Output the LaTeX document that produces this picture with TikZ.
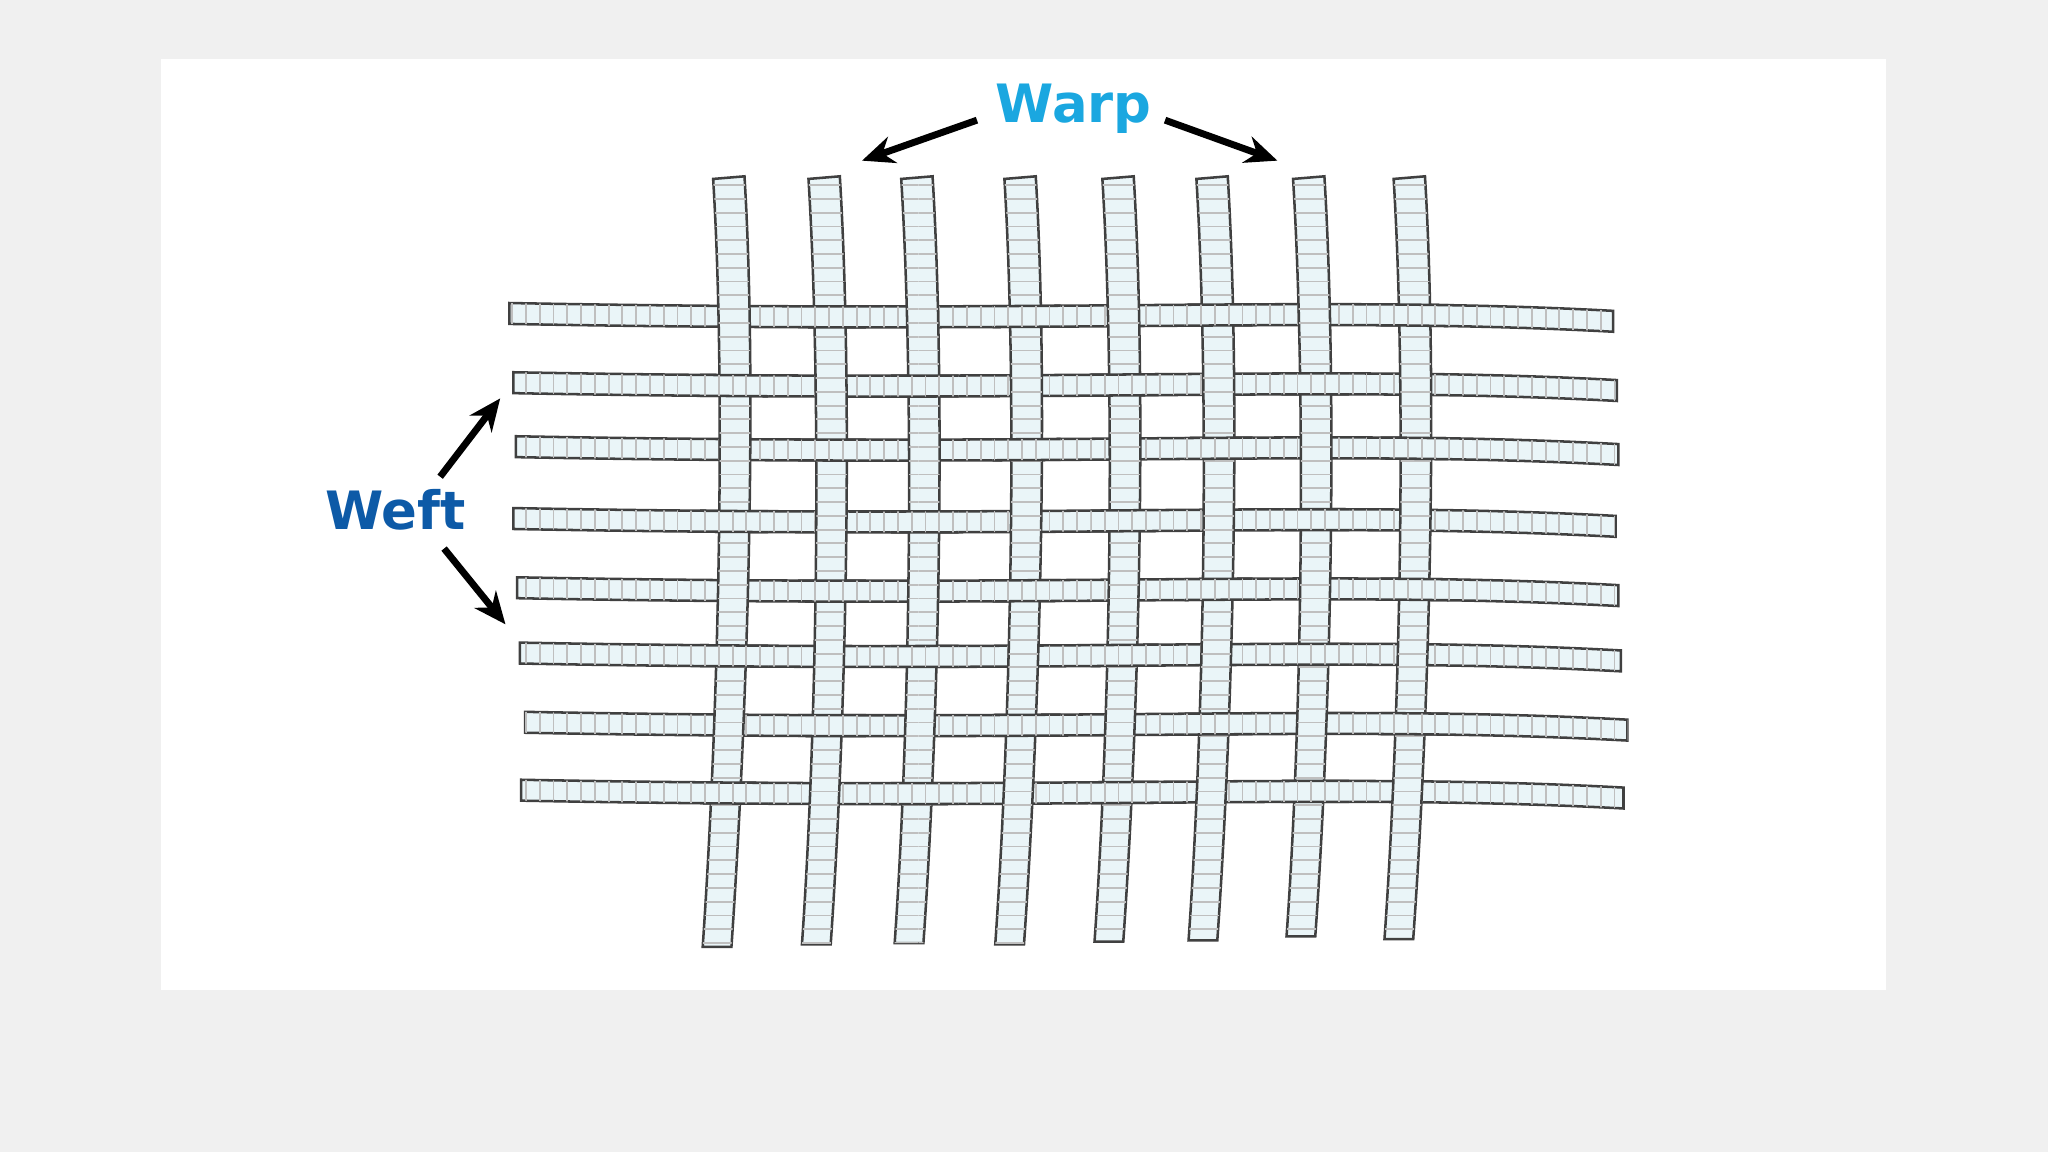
\documentclass[tikz,border=0pt]{standalone}
\usepackage{fontspec}
\setmainfont{DejaVu Sans}
\usetikzlibrary{patterns,arrows.meta}
\definecolor{bgc}{HTML}{F0F0F0}
\definecolor{strandc}{HTML}{EAF5F8}
\definecolor{warpc}{HTML}{1AA7E0}
\definecolor{weftc}{HTML}{0D5AA7}
\tikzset{
  weftstrand/.style={draw=black!75, line width=0.55pt, fill=strandc, postaction={pattern=vertical lines, pattern color=gray!50}},
  warpstrand/.style={draw=black!75, line width=0.55pt, fill=strandc, postaction={pattern=horizontal lines, pattern color=gray!50}},
  lbl/.style={font=\bfseries\fontsize{11.5}{14}\selectfont, inner sep=1pt},
  pointer/.style={-{Stealth[length=7pt,width=6pt]}, line width=1.5pt, black}
}
\newcommand\weftpath[3]{(#1,#3-8) .. controls ({(#1+#2)/2},#3) and ({(#1+#2)/2+200},#3-14) .. (#2,#3-2) -- (#2,#3+14) .. controls ({(#1+#2)/2+200},#3+2) and ({(#1+#2)/2},#3+16) .. (#1,#3+8) -- cycle}
\newcommand\warppath[4]{(#1-12,137) .. controls (#1-2,300) and (#2+2,550) .. (#2-10,#4) -- (#2+12,#4) .. controls (#2+24,550) and (#1+22,300) .. (#1+12,135) -- cycle}
\begin{document}
\begin{tikzpicture}[x=0.01cm,y=-0.01cm]
\fill[bgc] (0,0) rectangle (1568,882);
\fill[white] (123,45) rectangle (1444,758);
% wefts
\foreach \y/\xl/\xr in {240/390/1235,293/393/1238,342/395/1239,397/393/1237,450/396/1239,500/398/1241,553/402/1246,605/399/1243}{
  \path[weftstrand] \weftpath{\xl}{\xr}{\y};
}
% warps
\foreach \xt/\xb/\yb in {558/548/725,631/624/723,702/695/722,781/772/723,856/848/721,928/920/720,1002/995/717,1079/1070/719}{
  \path[warpstrand] \warppath{\xt}{\xb}{0}{\yb};
}
% weft over warp crossings (checkerboard)
\foreach \y/\xl/\xr [count=\i] in {240/390/1235,293/393/1238,342/395/1239,397/393/1237,450/396/1239,500/398/1241,553/402/1246,605/399/1243}{
  \foreach \xc [count=\j] in {562,637,708,786,861,933,1007,1083}{
    \pgfmathtruncatemacro\pty{mod(\i+\j,2)}
    \ifnum\pty=1
      \begin{scope}
        \clip (\xc-26,\y-20) rectangle (\xc+26,\y+26);
        \path[weftstrand] \weftpath{\xl}{\xr}{\y};
      \end{scope}
    \fi
  }
}
% labels
\node[lbl, text=warpc] (warp) at (822,83) {Warp};
\node[lbl, text=weftc] (weft) at (303,390) {Weft};
\coordinate (wa1) at (660,123);
\coordinate (wa2) at (978,123);
\coordinate (wf1) at (383,305);
\coordinate (wf2) at (387,478);
\draw[pointer] (748,92) -- (wa1);
\draw[pointer] (892,92) -- (wa2);
\draw[pointer] (337,365) -- (wf1);
\draw[pointer] (340,420) -- (wf2);
\end{tikzpicture}
\end{document}
